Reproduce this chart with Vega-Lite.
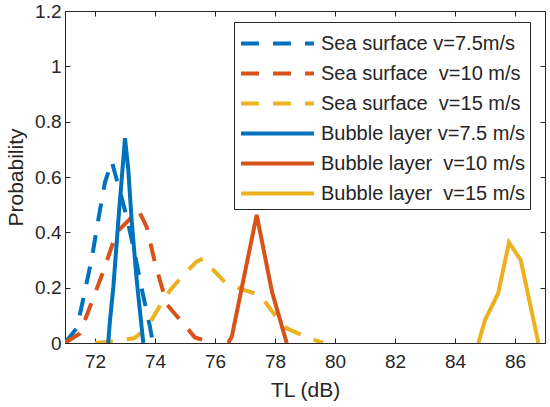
{
  "$schema": "https://vega.github.io/schema/vega-lite/v6.json",
  "description": "Probability of TL for sea surface and bubble layer at three wind speeds.",
  "width": 480,
  "height": 332,
  "autosize": {"type": "none"},
  "padding": {"left": 65, "top": 11, "right": 5, "bottom": 64},
  "background": "white",
  "data": {
    "values": [
      {"s": "Sea surface v=7.5m/s", "tl": 71.0, "p": 0},
      {"s": "Sea surface v=7.5m/s", "tl": 71.4, "p": 0.055},
      {"s": "Sea surface v=7.5m/s", "tl": 71.6, "p": 0.155},
      {"s": "Sea surface v=7.5m/s", "tl": 71.9, "p": 0.31},
      {"s": "Sea surface v=7.5m/s", "tl": 72.1, "p": 0.44},
      {"s": "Sea surface v=7.5m/s", "tl": 72.33, "p": 0.58},
      {"s": "Sea surface v=7.5m/s", "tl": 72.56, "p": 0.656},
      {"s": "Sea surface v=7.5m/s", "tl": 72.9, "p": 0.52},
      {"s": "Sea surface v=7.5m/s", "tl": 73.07, "p": 0.45},
      {"s": "Sea surface v=7.5m/s", "tl": 73.33, "p": 0.32},
      {"s": "Sea surface v=7.5m/s", "tl": 73.57, "p": 0.19},
      {"s": "Sea surface v=7.5m/s", "tl": 73.83, "p": 0.06},
      {"s": "Sea surface v=7.5m/s", "tl": 73.93, "p": 0},

      {"s": "Sea surface\u00a0 v=10 m/s", "tl": 71.0, "p": 0},
      {"s": "Sea surface\u00a0 v=10 m/s", "tl": 71.5, "p": 0.035},
      {"s": "Sea surface\u00a0 v=10 m/s", "tl": 71.83, "p": 0.13},
      {"s": "Sea surface\u00a0 v=10 m/s", "tl": 72.28, "p": 0.26},
      {"s": "Sea surface\u00a0 v=10 m/s", "tl": 72.72, "p": 0.4},
      {"s": "Sea surface\u00a0 v=10 m/s", "tl": 73.0, "p": 0.43},
      {"s": "Sea surface\u00a0 v=10 m/s", "tl": 73.45, "p": 0.48},
      {"s": "Sea surface\u00a0 v=10 m/s", "tl": 73.72, "p": 0.42},
      {"s": "Sea surface\u00a0 v=10 m/s", "tl": 74.0, "p": 0.29},
      {"s": "Sea surface\u00a0 v=10 m/s", "tl": 74.39, "p": 0.14},
      {"s": "Sea surface\u00a0 v=10 m/s", "tl": 75.07, "p": 0.054},
      {"s": "Sea surface\u00a0 v=10 m/s", "tl": 75.33, "p": 0.02},
      {"s": "Sea surface\u00a0 v=10 m/s", "tl": 75.93, "p": 0},

      {"s": "Sea surface\u00a0 v=15 m/s", "tl": 72.0, "p": 0},
      {"s": "Sea surface\u00a0 v=15 m/s", "tl": 72.5, "p": 0.005},
      {"s": "Sea surface\u00a0 v=15 m/s", "tl": 73.3, "p": 0.017},
      {"s": "Sea surface\u00a0 v=15 m/s", "tl": 73.7, "p": 0.05},
      {"s": "Sea surface\u00a0 v=15 m/s", "tl": 74.17, "p": 0.135},
      {"s": "Sea surface\u00a0 v=15 m/s", "tl": 74.5, "p": 0.19},
      {"s": "Sea surface\u00a0 v=15 m/s", "tl": 74.94, "p": 0.246},
      {"s": "Sea surface\u00a0 v=15 m/s", "tl": 75.39, "p": 0.294},
      {"s": "Sea surface\u00a0 v=15 m/s", "tl": 75.6, "p": 0.305},
      {"s": "Sea surface\u00a0 v=15 m/s", "tl": 75.89, "p": 0.27},
      {"s": "Sea surface\u00a0 v=15 m/s", "tl": 76.33, "p": 0.22},
      {"s": "Sea surface\u00a0 v=15 m/s", "tl": 77.0, "p": 0.19},
      {"s": "Sea surface\u00a0 v=15 m/s", "tl": 77.5, "p": 0.174},
      {"s": "Sea surface\u00a0 v=15 m/s", "tl": 78.0, "p": 0.1},
      {"s": "Sea surface\u00a0 v=15 m/s", "tl": 78.39, "p": 0.053},
      {"s": "Sea surface\u00a0 v=15 m/s", "tl": 79.0, "p": 0.023},
      {"s": "Sea surface\u00a0 v=15 m/s", "tl": 79.6, "p": 0},

      {"s": "Bubble layer v=7.5 m/s", "tl": 72.44, "p": 0},
      {"s": "Bubble layer v=7.5 m/s", "tl": 72.5, "p": 0.083},
      {"s": "Bubble layer v=7.5 m/s", "tl": 72.61, "p": 0.2},
      {"s": "Bubble layer v=7.5 m/s", "tl": 72.78, "p": 0.445},
      {"s": "Bubble layer v=7.5 m/s", "tl": 73.0, "p": 0.74},
      {"s": "Bubble layer v=7.5 m/s", "tl": 73.11, "p": 0.626},
      {"s": "Bubble layer v=7.5 m/s", "tl": 73.22, "p": 0.445},
      {"s": "Bubble layer v=7.5 m/s", "tl": 73.39, "p": 0.228},
      {"s": "Bubble layer v=7.5 m/s", "tl": 73.61, "p": 0},

      {"s": "Bubble layer\u00a0 v=10 m/s", "tl": 76.44, "p": 0},
      {"s": "Bubble layer\u00a0 v=10 m/s", "tl": 76.56, "p": 0.023},
      {"s": "Bubble layer\u00a0 v=10 m/s", "tl": 77.39, "p": 0.463},
      {"s": "Bubble layer\u00a0 v=10 m/s", "tl": 77.9, "p": 0.185},
      {"s": "Bubble layer\u00a0 v=10 m/s", "tl": 78.39, "p": 0},

      {"s": "Bubble layer\u00a0 v=15 m/s", "tl": 84.78, "p": 0},
      {"s": "Bubble layer\u00a0 v=15 m/s", "tl": 85.0, "p": 0.083},
      {"s": "Bubble layer\u00a0 v=15 m/s", "tl": 85.44, "p": 0.18},
      {"s": "Bubble layer\u00a0 v=15 m/s", "tl": 85.8, "p": 0.363},
      {"s": "Bubble layer\u00a0 v=15 m/s", "tl": 86.19, "p": 0.3},
      {"s": "Bubble layer\u00a0 v=15 m/s", "tl": 86.78, "p": 0}
    ]
  },
  "mark": {"type": "line", "strokeWidth": 4, "clip": true},
  "encoding": {
    "x": {
      "field": "tl", "type": "quantitative",
      "scale": {"domain": [71, 87], "nice": false, "zero": false},
      "axis": {
        "title": "TL (dB)", "values": [72, 74, 76, 78, 80, 82, 84, 86],
        "ticks": false, "labelPadding": 9, "titlePadding": 8,
        "grid": true, "gridDash": [5, 322, 5, 0]
      }
    },
    "y": {
      "field": "p", "type": "quantitative",
      "scale": {"domain": [0, 1.2], "nice": false},
      "axis": {
        "title": "Probability", "values": [0, 0.2, 0.4, 0.6, 0.8, 1, 1.2], "format": "~g",
        "ticks": false, "labelPadding": 4, "titlePadding": 8,
        "grid": true, "gridDash": [5, 470, 5, 0]
      }
    },
    "color": {
      "field": "s", "type": "nominal",
      "scale": {
        "domain": ["Sea surface v=7.5m/s", "Sea surface\u00a0 v=10 m/s", "Sea surface\u00a0 v=15 m/s", "Bubble layer v=7.5 m/s", "Bubble layer\u00a0 v=10 m/s", "Bubble layer\u00a0 v=15 m/s"],
        "range": ["#0072BD", "#D95319", "#EDB120", "#0072BD", "#D95319", "#EDB120"]
      },
      "legend": {"title": null}
    },
    "strokeDash": {
      "field": "s", "type": "nominal",
      "scale": {
        "domain": ["Sea surface v=7.5m/s", "Sea surface\u00a0 v=10 m/s", "Sea surface\u00a0 v=15 m/s", "Bubble layer v=7.5 m/s", "Bubble layer\u00a0 v=10 m/s", "Bubble layer\u00a0 v=15 m/s"],
        "range": [[18, 14], [18, 14], [18, 14], [1, 0], [1, 0], [1, 0]]
      },
      "legend": {"title": null}
    }
  },
  "config": {
    "font": "Liberation Sans",
    "view": {"stroke": "#262626", "strokeWidth": 1},
    "axis": {
      "domainColor": "#262626",
      "domainWidth": 1,
      "gridColor": "#262626",
      "gridOpacity": 1,
      "gridWidth": 1,
      "labelColor": "#262626",
      "labelFont": "Liberation Sans",
      "labelFontSize": 19,
      "titleColor": "#262626",
      "titleFont": "Liberation Sans",
      "titleFontSize": 21,
      "titleFontWeight": "normal"
    },
    "legend": {
      "orient": "none",
      "legendX": 169,
      "legendY": 11,
      "symbolType": "M-1,0H4.03",
      "symbolSize": 841,
      "symbolStrokeWidth": 4,
      "labelFont": "Liberation Sans",
      "labelFontSize": 20,
      "labelColor": "#262626",
      "labelLimit": 400,
      "labelOffset": 49,
      "strokeColor": "#262626",
      "fillColor": "white",
      "padding": 5,
      "rowPadding": 3
    }
  }
}
